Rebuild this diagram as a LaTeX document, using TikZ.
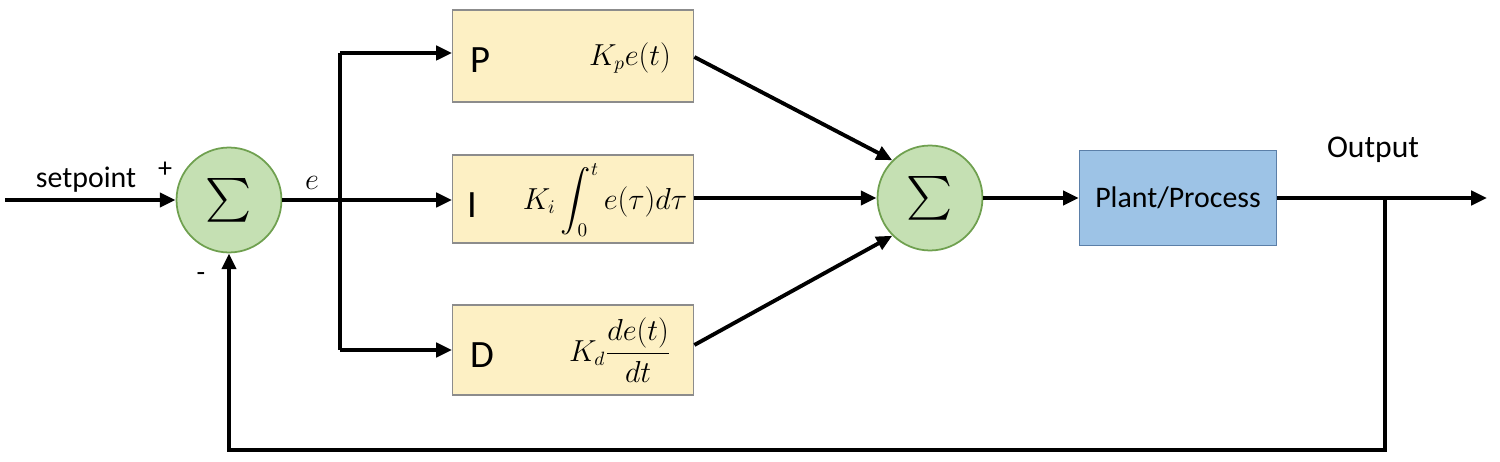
\documentclass[tikz,border=0pt]{standalone}
\usepackage{fontspec}
\setmainfont{Carlito}
\usepackage{amsmath}
\usetikzlibrary{arrows.meta}
\definecolor{boxfill}{HTML}{FDF0C4}
\definecolor{boxdraw}{HTML}{8C8C8C}
\definecolor{sumfill}{HTML}{C5E0B3}
\definecolor{sumdraw}{HTML}{6FA04F}
\definecolor{plantfill}{HTML}{9DC3E6}
\definecolor{plantdraw}{HTML}{5B7FA8}
\begin{document}
\begin{tikzpicture}[x=0.02cm,y=-0.02cm,
  wire/.style={line width=2.2pt,-{Triangle[length=9pt,width=8pt]}},
  plain/.style={line width=2.2pt},
  sumnode/.style={circle,draw=sumdraw,line width=1pt,fill=sumfill,minimum size=2.1cm,inner sep=0pt,font=\fontsize{34}{34}\selectfont},
  pidbox/.style={rectangle,draw=boxdraw,line width=0.8pt,fill=boxfill,minimum width=4.82cm,anchor=west},
  lbl/.style={font=\fontsize{16}{18}\selectfont}]
\useasboundingbox (0,0) rectangle (1500,462);
\node[sumnode] (s1) at (229,200) {$\sum$};
\node[sumnode] (s2) at (930,198) {$\sum$};
\node[pidbox,minimum height=1.84cm] (P) at (452,56) {};
\node[pidbox,minimum height=1.76cm] (I) at (452,199) {};
\node[pidbox,minimum height=1.8cm] (D) at (452,350) {};
\node[rectangle,draw=plantdraw,line width=0.8pt,fill=plantfill,minimum width=3.94cm,minimum height=1.9cm,font=\fontsize{17}{19}\selectfont] (plant) at (1178,198) {Plant/Process};
% box labels
\node[font=\fontsize{22}{24}\selectfont] (Pl) at (480,60) {P};
\node[font=\fontsize{22}{24}\selectfont] (Il) at (472,205) {I};
\node[font=\fontsize{22}{24}\selectfont] (Dl) at (482,355) {D};
\node[font=\fontsize{16}{18}\selectfont] (Pm) at (630,58) {$K_p e(t)$};
\node[font=\fontsize{16}{18}\selectfont] (Im) at (605,200) {$K_i\displaystyle\int_0^t e(\tau)d\tau$};
\node[font=\fontsize{16}{18}\selectfont] (Dm) at (620,350) {$K_d\dfrac{de(t)}{dt}$};
% texts
\node[lbl,font=\fontsize{17}{19}\selectfont] (sp) at (86,180) {setpoint};
\node[lbl] (plus) at (165,170) {+};
\node[lbl] (minus) at (201,277) {-};
\node[lbl] (e) at (312,183) {$e$};
\node[lbl,font=\fontsize{18}{20}\selectfont] (out) at (1373,150) {Output};
% coordinates
\coordinate (in) at (5,200);
\coordinate (br) at (340,200);
\coordinate (bt) at (340,53);
\coordinate (bb) at (340,350);
\coordinate (oe) at (1487,198);
\coordinate (fb) at (1385,198);
\coordinate (fb1) at (1385,450);
\coordinate (fb2) at (229,450);
% wires
\draw[wire] (in) -- (s1.west);
\draw[plain] (s1.east) -- (br);
\draw[plain] (bt) -- (bb);
\draw[wire] (bt) -- (P.west|-bt);
\draw[wire] (br) -- (I.west|-br);
\draw[wire] (bb) -- (D.west|-bb);
\draw[wire] (P.east|-0,57) -- (s2.north west);
\draw[wire] (I.east|-0,198) -- (s2.west);
\draw[wire] (D.east|-0,345) -- (s2.south west);
\draw[wire] (s2.east) -- (plant.west);
\draw[wire] (plant.east) -- (oe);
\draw[wire] (fb) -- (fb1) -- (fb2) -- (s1.south);
\end{tikzpicture}
\end{document}
